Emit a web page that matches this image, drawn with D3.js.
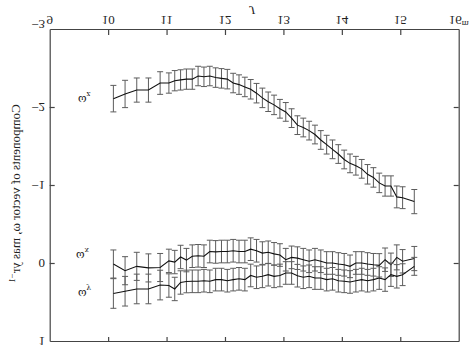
<!DOCTYPE html>
<html><head><meta charset="utf-8">
<script src="https://cdn.jsdelivr.net/npm/d3@7"></script>
<style>body{margin:0;background:#fff}</style></head><body>
<script>
// magnitude bins
const mags=[10.09,10.29,10.49,10.69,10.89,11.04,11.14,11.24,11.34,11.44,11.54,11.64,11.74,11.84,11.94,12.04,12.14,12.24,12.34,12.44,12.54,12.64,12.74,12.84,12.94,13.04,13.14,13.24,13.34,13.44,13.54,13.64,13.74,13.84,13.94,14.04,14.14,14.24,14.34,14.44,14.54,14.64,14.74,14.84,14.94,15.04,15.24];
const omegaZ=[-2.12,-2.18,-2.23,-2.23,-2.32,-2.32,-2.35,-2.36,-2.37,-2.37,-2.41,-2.40,-2.41,-2.39,-2.38,-2.37,-2.32,-2.30,-2.27,-2.24,-2.19,-2.13,-2.08,-2.04,-1.99,-1.95,-1.87,-1.78,-1.75,-1.71,-1.66,-1.59,-1.53,-1.47,-1.41,-1.34,-1.29,-1.26,-1.22,-1.15,-1.11,-1.04,-1.00,-1.00,-0.86,-0.85,-0.80];
const omegaZErr=[0.17,0.175,0.155,0.155,0.145,0.13,0.13,0.13,0.13,0.13,0.125,0.125,0.125,0.125,0.125,0.125,0.125,0.125,0.125,0.125,0.125,0.125,0.125,0.125,0.12,0.12,0.12,0.12,0.12,0.12,0.12,0.12,0.12,0.12,0.12,0.12,0.12,0.12,0.12,0.125,0.125,0.125,0.13,0.13,0.14,0.14,0.155];
const omegaX=[0.00,0.086,0.03,0.05,0.045,-0.04,-0.025,-0.09,-0.05,-0.10,-0.105,-0.10,-0.16,-0.155,-0.16,-0.16,-0.17,-0.16,-0.16,-0.19,-0.17,-0.14,-0.15,-0.13,-0.115,-0.055,-0.085,-0.075,-0.055,-0.035,-0.055,-0.035,-0.013,-0.013,0.00,0.01,0.03,-0.013,-0.013,0.00,0.01,0.017,-0.055,0.01,-0.085,-0.035,-0.07];
const omegaXErr=[0.18,0.18,0.18,0.18,0.18,0.15,0.15,0.15,0.15,0.145,0.145,0.145,0.145,0.145,0.145,0.145,0.145,0.145,0.145,0.145,0.145,0.145,0.145,0.145,0.145,0.145,0.145,0.145,0.145,0.145,0.145,0.145,0.145,0.145,0.145,0.145,0.145,0.145,0.145,0.145,0.145,0.15,0.15,0.15,0.16,0.15,0.155];
const omegaY=[0.378,0.349,0.32,0.32,0.27,0.276,0.32,0.237,0.224,0.222,0.222,0.214,0.222,0.20,0.20,0.214,0.20,0.19,0.20,0.147,0.17,0.158,0.137,0.158,0.147,0.115,0.115,0.15,0.17,0.158,0.18,0.18,0.20,0.19,0.214,0.222,0.23,0.214,0.20,0.214,0.20,0.18,0.20,0.137,0.158,0.137,0.03];
const omegaYErr=[0.19,0.19,0.19,0.19,0.19,0.15,0.15,0.15,0.145,0.145,0.145,0.145,0.145,0.145,0.145,0.145,0.145,0.145,0.145,0.145,0.145,0.145,0.145,0.145,0.145,0.145,0.145,0.145,0.145,0.145,0.145,0.145,0.145,0.145,0.145,0.145,0.145,0.145,0.145,0.145,0.145,0.145,0.15,0.15,0.15,0.14,0.115];
const xTickValues=[9,10,11,12,13,14,15,16];
const xTickLabels=["9","10","11","12","13","14","15","16"];
const yTickValues=[-3,-2,-1,0,1];
const yTickLabels=["\u22123","\u22122","\u22121","0","1"];

const W=474,H=353;
const svg=d3.select("body").append("svg").attr("width",W).attr("height",H)
  .style("font-family","'Liberation Serif','Times New Roman',serif");
// the whole figure is mirrored top-to-bottom as in the reference
const g=svg.append("g").attr("transform",`translate(0,${H}) scale(1,-1)`);

const x=d3.scaleLinear().domain([9,16]).range([49.7,458.7]);
const y=d3.scaleLinear().domain([-3,1]).range([323,11]);
const axCol="#444";
function styleAxis(sel){sel.selectAll("path,line").attr("stroke",axCol).attr("stroke-width",1.2);sel.selectAll("text").remove();}
g.append("g").attr("transform","translate(0,323)").call(d3.axisBottom(x).tickValues(xTickValues.slice(1,-1)).tickSizeInner(-5).tickSizeOuter(0)).call(styleAxis);
g.append("g").attr("transform","translate(0,11)").call(d3.axisTop(x).tickValues(xTickValues.slice(1,-1)).tickSizeInner(-5).tickSizeOuter(0)).call(styleAxis);
g.append("g").attr("transform","translate(49.7,0)").call(d3.axisLeft(y).tickValues(yTickValues.slice(1,-1)).tickSizeInner(-5).tickSizeOuter(0)).call(styleAxis);
g.append("g").attr("transform","translate(458.7,0)").call(d3.axisRight(y).tickValues(yTickValues.slice(1,-1)).tickSizeInner(-5).tickSizeOuter(0)).call(styleAxis);

// x tick labels
xTickValues.forEach((v,i)=>{
  const t=g.append("text").attr("x",x(v)).attr("y",337).attr("text-anchor","middle")
    .attr("font-size",13).attr("fill","#222").text(xTickLabels[i]);
  if(i===xTickValues.length-1) t.append("tspan").attr("font-size",9).attr("dy",-5).text("m");
});
// y tick labels
yTickValues.forEach((v,i)=>{
  g.append("text").attr("x",45).attr("y",y(v)+(i===0?5:0)).attr("dy","0.35em").attr("text-anchor","end")
    .attr("font-size",13).attr("fill","#222").text(yTickLabels[i]);
});
// axis titles
g.append("text").attr("x",252).attr("y",347).attr("text-anchor","middle").attr("font-size",13)
  .attr("font-style","italic").attr("fill","#222").text("J");
const yt=g.append("text").attr("transform","translate(15,159.5) rotate(-90)").attr("dy","0.35em")
  .attr("text-anchor","middle").attr("font-size",13).attr("fill","#222").text("Components of vector \u03c9, mas yr");
yt.append("tspan").attr("font-size",9).attr("dy",-5).text("\u22121");

// series
const series=[{v:omegaZ,e:omegaZErr},{v:omegaX,e:omegaXErr},{v:omegaY,e:omegaYErr}];
const line=d3.line().x(d=>x(d[0])).y(d=>y(d[1]));
series.forEach(s=>{
  const data=mags.map((m,i)=>[m,s.v[i],s.e[i]]);
  const eb=g.append("g").attr("stroke","#5c5c5c").attr("stroke-width",1);
  eb.selectAll("line.v").data(data).join("line").attr("x1",d=>x(d[0])).attr("x2",d=>x(d[0]))
    .attr("y1",d=>y(d[1]-d[2])).attr("y2",d=>y(d[1]+d[2]));
  eb.selectAll("line.t").data(data).join("line").attr("x1",d=>x(d[0])-3).attr("x2",d=>x(d[0])+3)
    .attr("y1",d=>y(d[1]+d[2])).attr("y2",d=>y(d[1]+d[2]));
  eb.selectAll("line.b").data(data).join("line").attr("x1",d=>x(d[0])-3).attr("x2",d=>x(d[0])+3)
    .attr("y1",d=>y(d[1]-d[2])).attr("y2",d=>y(d[1]-d[2]));
  g.append("path").datum(data).attr("d",line).attr("fill","none").attr("stroke","#111").attr("stroke-width",1.1);
});

// series labels
const labs=[{t:"z",x:78,y:257},{t:"x",x:76,y:101.5},{t:"y",x:78,y:63.5}];
labs.forEach(l=>{
  const t=g.append("text").attr("x",l.x).attr("y",l.y).attr("font-size",13).attr("fill","#222").text("\u03c9");
  t.append("tspan").attr("font-size",9).attr("dy",4).text(l.t);
});
</script>
</body></html>
